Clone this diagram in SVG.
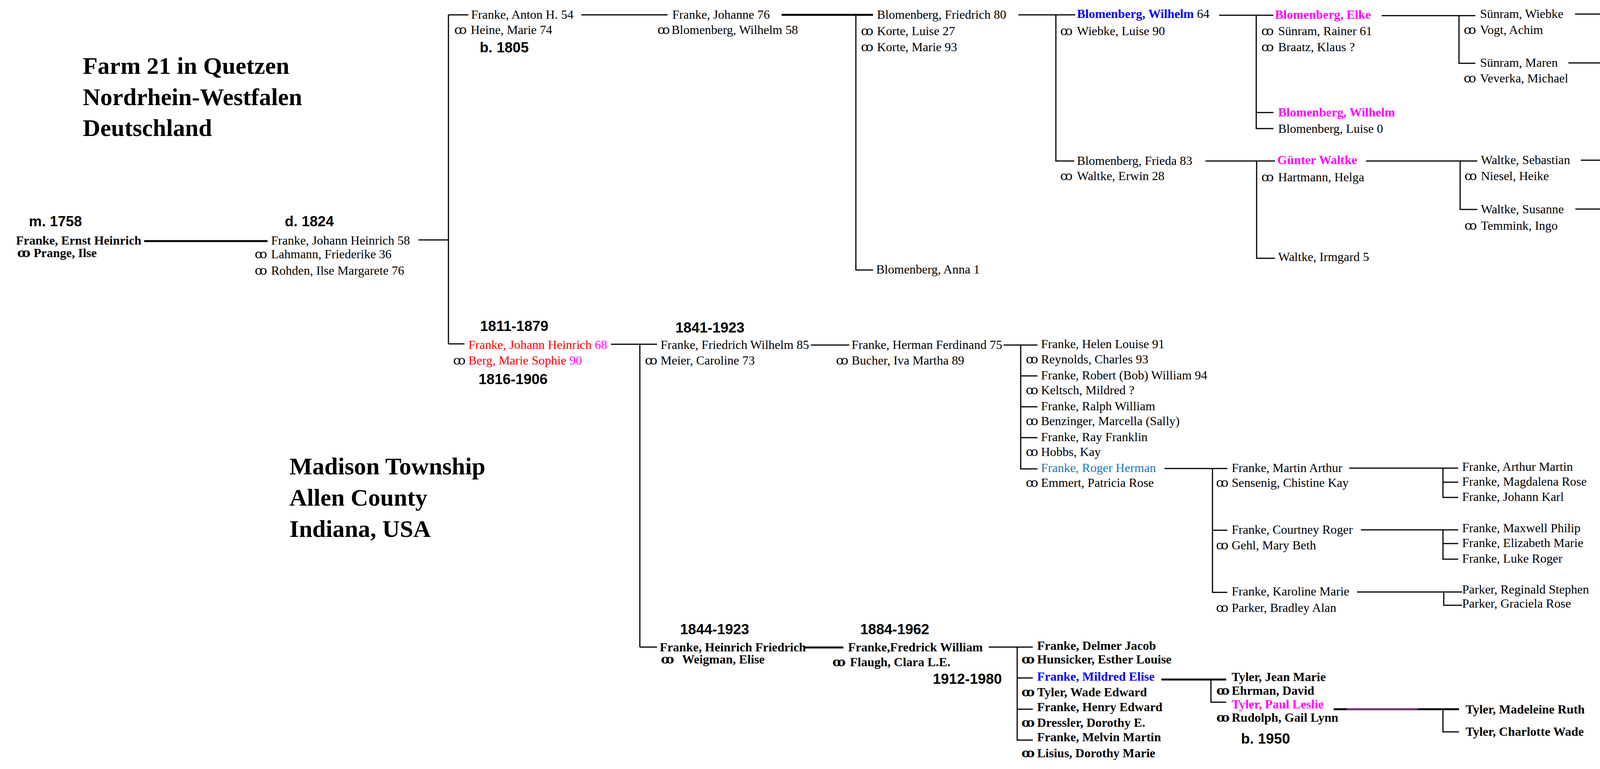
<svg xmlns="http://www.w3.org/2000/svg" width="4628" height="1968" viewBox="0 0 4628 1968">
<style>
text{font-family:"Liberation Serif","DejaVu Serif",serif;font-size:32px;fill:#000}
.b{font-weight:bold}
.y{font-family:"Liberation Sans","DejaVu Sans",sans-serif;font-weight:bold;font-size:37px}
.h{font-weight:bold;font-size:62px}
.blue{fill:#0000ff}.mag{fill:#ff00ff}.red{fill:#ff0000}.sky{fill:#1b75bc}
.c line,.c path{stroke:#000;stroke-width:3;fill:none}
.c .k{stroke-width:5}
</style>
<rect width="4628" height="1968" fill="#fff"/>
<g id="titles">
<text class="h" x="212" y="189">Farm 21 in Quetzen</text>
<text class="h" x="212" y="269">Nordrhein-Westfalen</text>
<text class="h" x="212" y="348">Deutschland</text>
<text class="h" x="741" y="1214">Madison Township</text>
<text class="h" x="741" y="1294">Allen County</text>
<text class="h" x="741" y="1374">Indiana, USA</text>
</g>
<g class="c" id="connectors">
<line class="k" x1="369" y1="617" x2="685" y2="617"/>
<line x1="1071" y1="614" x2="1148" y2="614"/>
<line x1="1148" y1="38" x2="1148" y2="880"/>
<line x1="1148" y1="38" x2="1199" y2="38"/>
<line x1="1148" y1="880" x2="1189" y2="880"/>
<line x1="1488" y1="38" x2="1709" y2="38"/>
<line class="k" x1="2001" y1="38" x2="2235" y2="38"/>
<path d="M2191 38V691H2235"/>
<line x1="2607" y1="38" x2="2753" y2="38"/>
<path d="M2703 38V412H2750"/>
<line x1="3121" y1="39" x2="3260" y2="39"/>
<path d="M3216 39V329H3260M3216 288H3260"/>
<line x1="3537" y1="40" x2="3777" y2="40"/>
<path d="M3735 40V162H3777"/>
<line x1="4032" y1="36" x2="4292" y2="36"/>
<path d="M4251 36V77H4292"/>
<line x1="4015" y1="161" x2="4304" y2="161"/>
<path d="M4251 161V201H4304"/>
<line x1="3086" y1="412" x2="3264" y2="412"/>
<path d="M3217 412V661H3264"/>
<line x1="3497" y1="412" x2="3782" y2="412"/>
<path d="M3738 412V536H3782"/>
<line x1="4047" y1="410" x2="4298" y2="410"/>
<line x1="4033" y1="535" x2="4296" y2="535"/>
<path d="M4254 535V576H4296"/>
<line x1="1564" y1="881" x2="1682" y2="881"/>
<line x1="1638" y1="881" x2="1638" y2="1656"/>
<line x1="1638" y1="1656" x2="1682" y2="1656"/>
<line x1="2076" y1="883" x2="2174" y2="883"/>
<line x1="2569" y1="883" x2="2656" y2="883"/>
<path d="M2613 883V1200H2656M2613 962H2656M2613 1041H2656M2613 1120H2656"/>
<line x1="2981" y1="1199" x2="3142" y2="1199"/>
<path d="M3104 1199V1516H3142M3104 1357H3142"/>
<line x1="3454" y1="1198" x2="3733" y2="1198"/>
<path d="M3694 1198V1273H3733M3694 1234H3733"/>
<line x1="3484" y1="1356" x2="3733" y2="1356"/>
<path d="M3694 1356V1431H3733M3694 1391H3733"/>
<line x1="3474" y1="1515" x2="3743" y2="1515"/>
<path d="M3696 1515V1549H3743"/>
<line class="k" x1="2061" y1="1657" x2="2159" y2="1657"/>
<line x1="2531" y1="1656" x2="2644" y2="1656"/>
<path d="M2604 1656V1894H2644M2604 1735H2644M2604 1815H2644"/>
<line class="k" x1="2973" y1="1739" x2="3139" y2="1739"/>
<path d="M3100 1739V1797H3139"/>
<line class="k" x1="3414" y1="1815" x2="3735" y2="1815"/>
<line x1="3448" y1="1815" x2="3630" y2="1815" style="stroke:#7a3d7a;stroke-width:5"/>
<path d="M3694 1815V1873H3735"/>
</g>
<g id="n-ernst">
<text class="y" x="74" y="579">m. 1758</text>
<text class="b" x="41" y="626">Franke, Ernst Heinrich</text>
<text class="b" x="44" y="658">ꝏ Prange, Ilse</text>
</g>
<g id="n-johann1">
<text class="y" x="729" y="579">d. 1824</text>
<text x="694" y="626">Franke, Johann Heinrich 58</text>
<text x="652" y="661">ꝏ</text><text x="694" y="661">Lahmann, Friederike  36</text>
<text x="652" y="703">ꝏ</text><text x="694" y="703">Rohden, Ilse Margarete  76</text>
</g>
<g id="n-anton">
<text x="1206" y="48">Franke, Anton H. 54</text>
<text x="1163" y="87">ꝏ</text><text x="1205" y="87">Heine, Marie  74</text>
<text class="y" x="1228" y="134">b. 1805</text>
</g>
<g id="n-johanne">
<text x="1721" y="48">Franke, Johanne 76</text>
<text x="1683" y="87">ꝏ</text><text x="1719" y="87">Blomenberg, Wilhelm  58</text>
</g>
<g id="n-friedrich">
<text x="2245" y="48">Blomenberg, Friedrich 80</text>
<text x="2204" y="90">ꝏ</text><text x="2245" y="90">Korte, Luise  27</text>
<text x="2204" y="131">ꝏ</text><text x="2245" y="131">Korte, Marie 93</text>
</g>
<g id="n-anna"><text x="2243" y="700">Blomenberg, Anna 1</text></g>
<g id="n-wilhelm">
<text x="2757" y="46"><tspan class="blue b">Blomenberg, Wilhelm</tspan> 64</text>
<text x="2714" y="90">ꝏ</text><text x="2757" y="90">Wiebke, Luise 90</text>
</g>
<g id="n-frieda">
<text x="2757" y="422">Blomenberg, Frieda 83</text>
<text x="2714" y="461">ꝏ</text><text x="2757" y="461">Waltke, Erwin  28</text>
</g>
<g id="n-elke">
<text class="mag b" x="3264" y="48">Blomenberg, Elke</text>
<text x="3229" y="90">ꝏ</text><text x="3272" y="90">Sünram, Rainer 61</text>
<text x="3229" y="131">ꝏ</text><text x="3272" y="131">Braatz, Klaus ?</text>
</g>
<g id="n-wilhelm2"><text class="mag b" x="3272" y="298">Blomenberg, Wilhelm</text></g>
<g id="n-luise"><text x="3272" y="340">Blomenberg, Luise 0</text></g>
<g id="n-wiebke">
<text x="3789" y="46">Sünram, Wiebke</text>
<text x="3747" y="87">ꝏ</text><text x="3789" y="87">Vogt, Achim</text>
</g>
<g id="n-nora"><text x="4306" y="44">Sünram, Nora</text></g>
<g id="n-rieke"><text x="4306" y="85">Sünram, Rieke</text></g>
<g id="n-maren">
<text x="3789" y="171">Sünram, Maren</text>
<text x="3747" y="211">ꝏ</text><text x="3789" y="211">Veverka, Michael</text>
</g>
<g id="n-merten"><text x="4307" y="170">Veverka, Merten</text></g>
<g id="n-jonna"><text x="4307" y="209">Veverka, Jonna</text></g>
<g id="n-guenter">
<text class="mag b" x="3270" y="420">Günter Waltke</text>
<text x="3229" y="464">ꝏ</text><text x="3272" y="464">Hartmann, Helga</text>
</g>
<g id="n-irmgard"><text x="3272" y="668">Waltke, Irmgard  5</text></g>
<g id="n-sebastian">
<text x="3791" y="420">Waltke, Sebastian</text>
<text x="3749" y="461">ꝏ</text><text x="3791" y="461">Niesel, Heike</text>
</g>
<g id="n-elisa"><text x="4307" y="418">Waltke, Elisa</text></g>
<g id="n-susanne">
<text x="3791" y="546">Waltke, Susanne</text>
<text x="3749" y="588">ꝏ</text><text x="3791" y="588">Temmink, Ingo</text>
</g>
<g id="n-jan"><text x="4309" y="544">Temmink, Jan</text></g>
<g id="n-silas"><text x="4309" y="584">Temmink, Silas</text></g>
<g id="n-johann2">
<text class="y" x="1229" y="847">1811-1879</text>
<text x="1199" y="893"><tspan class="red">Franke, Johann Heinrich</tspan> <tspan class="mag">68</tspan></text>
<text x="1160" y="933">ꝏ</text><text x="1199" y="933"><tspan class="red">Berg, Marie Sophie</tspan> <tspan class="mag">90</tspan></text>
<text class="y" x="1225" y="983">1816-1906</text>
</g>
<g id="n-fw">
<text class="y" x="1729" y="851">1841-1923</text>
<text x="1691" y="893">Franke, Friedrich Wilhelm 85</text>
<text x="1651" y="933">ꝏ</text><text x="1691" y="933">Meier, Caroline 73</text>
</g>
<g id="n-herman">
<text x="2180" y="893">Franke, Herman Ferdinand 75</text>
<text x="2140" y="933">ꝏ</text><text x="2180" y="933">Bucher, Iva Martha 89</text>
</g>
<g id="n-children">
<text x="2665" y="891">Franke, Helen Louise 91</text>
<text x="2626" y="930">ꝏ</text><text x="2665" y="930">Reynolds, Charles 93</text>
<text x="2665" y="971">Franke, Robert (Bob) William 94</text>
<text x="2626" y="1009">ꝏ</text><text x="2665" y="1009">Keltsch, Mildred  ?</text>
<text x="2665" y="1050">Franke, Ralph William</text>
<text x="2626" y="1088">ꝏ</text><text x="2665" y="1088">Benzinger, Marcella (Sally)</text>
<text x="2665" y="1129">Franke, Ray Franklin</text>
<text x="2626" y="1167">ꝏ</text><text x="2665" y="1167">Hobbs, Kay</text>
</g>
<g id="n-roger">
<text class="sky" x="2665" y="1208">Franke, Roger Herman</text>
<text x="2626" y="1246">ꝏ</text><text x="2665" y="1246">Emmert, Patricia Rose</text>
</g>
<g id="n-martin">
<text x="3153" y="1208">Franke, Martin Arthur</text>
<text x="3113" y="1246">ꝏ</text><text x="3153" y="1246">Sensenig, Chistine Kay</text>
</g>
<g id="n-g1">
<text x="3743" y="1205">Franke, Arthur Martin</text>
<text x="3743" y="1243">Franke, Magdalena Rose</text>
<text x="3743" y="1282">Franke, Johann Karl</text>
</g>
<g id="n-courtney">
<text x="3153" y="1366">Franke, Courtney Roger</text>
<text x="3113" y="1406">ꝏ</text><text x="3153" y="1406">Gehl, Mary Beth</text>
</g>
<g id="n-g2">
<text x="3743" y="1362">Franke, Maxwell Philip</text>
<text x="3743" y="1400">Franke, Elizabeth Marie</text>
<text x="3743" y="1440">Franke, Luke Roger</text>
</g>
<g id="n-karoline">
<text x="3153" y="1524">Franke, Karoline Marie</text>
<text x="3113" y="1566">ꝏ</text><text x="3153" y="1566">Parker, Bradley Alan</text>
</g>
<g id="n-g3">
<text x="3743" y="1519">Parker, Reginald Stephen</text>
<text x="3743" y="1555">Parker, Graciela Rose</text>
</g>
<g id="n-hf">
<text class="y" x="1741" y="1623">1844-1923</text>
<text class="b" x="1689" y="1667">Franke, Heinrich Friedrich</text>
<text class="b" x="1692" y="1698">ꝏ</text><text class="b" x="1746" y="1698">Weigman, Elise</text>
</g>
<g id="n-fredrick">
<text class="y" x="2202" y="1623">1884-1962</text>
<text class="b" x="2171" y="1667">Franke,Fredrick William</text>
<text class="b" x="2131" y="1705">ꝏ</text><text class="b" x="2176" y="1705">Flaugh, Clara L.E.</text>
<text class="y" x="2388" y="1750">1912-1980</text>
</g>
<g id="n-children2">
<text class="b" x="2655" y="1663">Franke, Delmer Jacob</text>
<text class="b" x="2615" y="1698">ꝏ</text><text class="b" x="2655" y="1698">Hunsicker, Esther Louise</text>
<text class="b blue" x="2655" y="1742">Franke, Mildred Elise</text>
<text class="b" x="2615" y="1782">ꝏ</text><text class="b" x="2655" y="1782">Tyler, Wade Edward</text>
<text class="b" x="2655" y="1820">Franke, Henry Edward</text>
<text class="b" x="2615" y="1860">ꝏ</text><text class="b" x="2655" y="1860">Dressler, Dorothy E.</text>
<text class="b" x="2655" y="1897">Franke, Melvin Martin</text>
<text class="b" x="2615" y="1938">ꝏ</text><text class="b" x="2655" y="1938">Lisius, Dorothy Marie</text>
</g>
<g id="n-tyler">
<text class="b" x="3153" y="1743">Tyler, Jean Marie</text>
<text class="b" x="3114" y="1778">ꝏ</text><text class="b" x="3153" y="1778">Ehrman, David</text>
<text class="b mag" x="3153" y="1813">Tyler, Paul Leslie</text>
<text class="b" x="3114" y="1847">ꝏ</text><text class="b" x="3153" y="1847">Rudolph, Gail Lynn</text>
<text class="y" x="3177" y="1903">b. 1950</text>
</g>
<g id="n-g4">
<text class="b" x="3752" y="1826">Tyler, Madeleine Ruth</text>
<text class="b" x="3752" y="1883">Tyler, Charlotte Wade</text>
</g>
</svg>
